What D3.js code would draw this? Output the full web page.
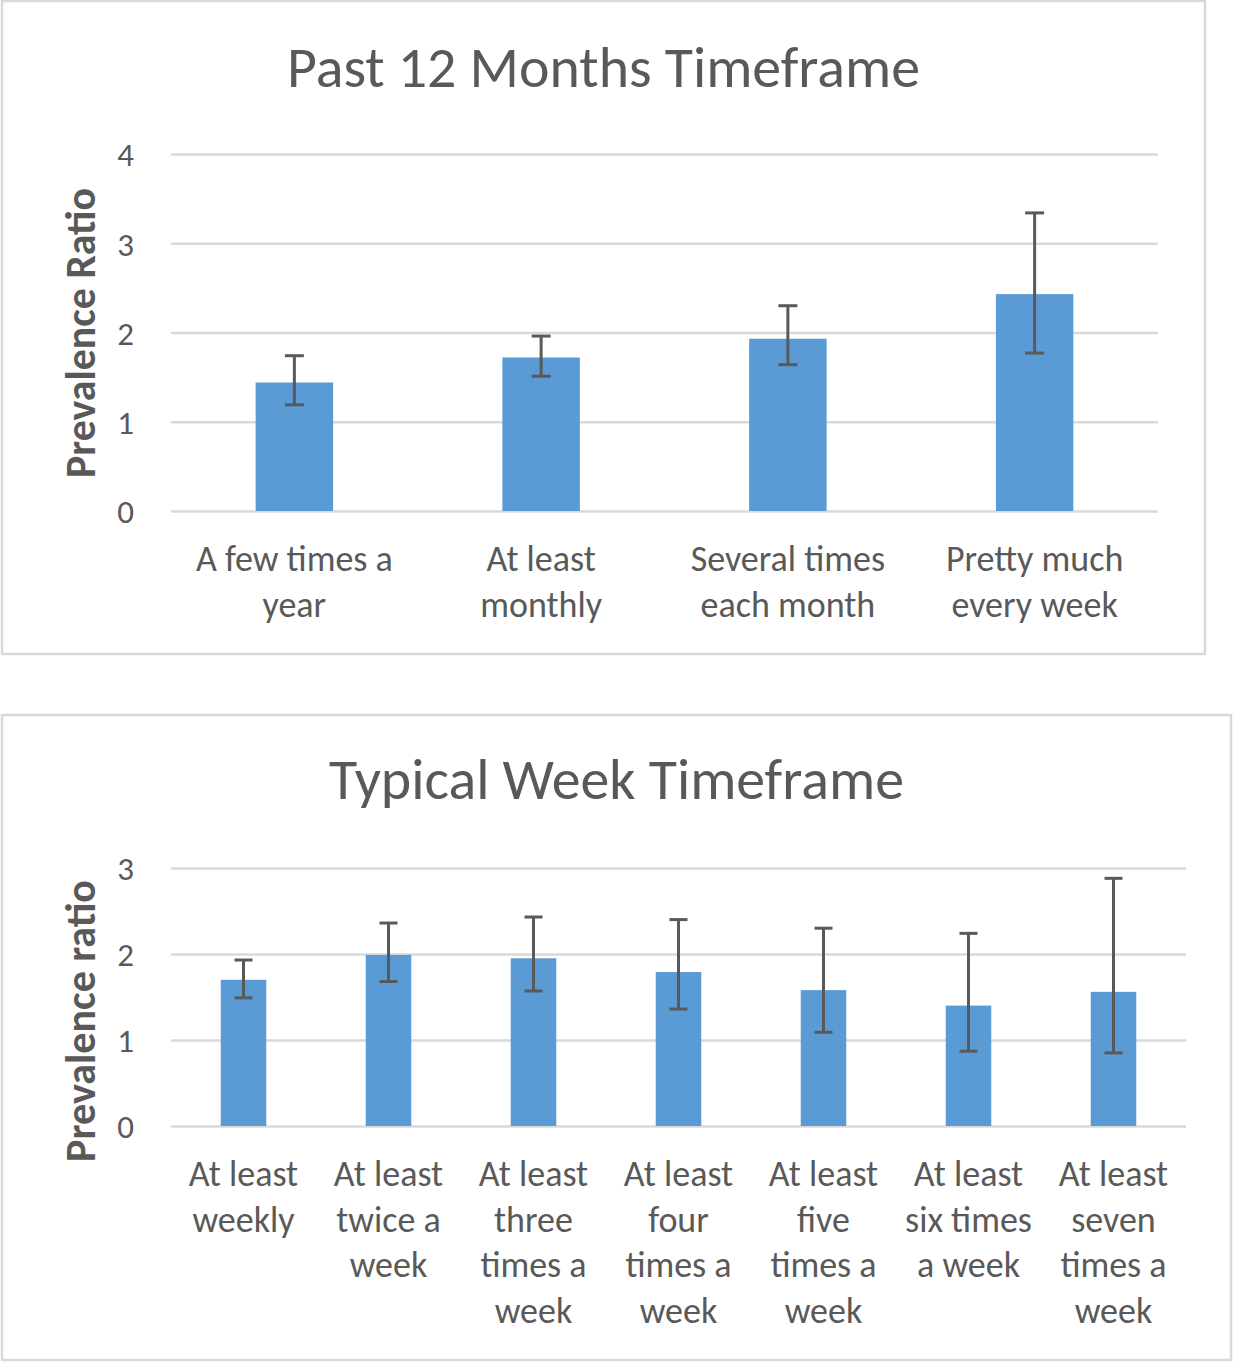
<!DOCTYPE html>
<html>
<head>
<meta charset="utf-8">
<script src="https://cdn.jsdelivr.net/npm/d3@7"></script>
<style>
  html, body { margin: 0; padding: 0; background: #ffffff; }
  svg { display: block; }
  text { font-family: Carlito, Lato, "Open Sans", sans-serif; fill: #595959; }
</style>
</head>
<body>
<svg id="chart" width="1233" height="1362"></svg>
<script>
// ---------- Data ----------
const monthsTitle = "Past 12 Months Timeframe";
const monthsYLabel = "Prevalence Ratio";
const monthsCategories = ["A few times a\nyear", "At least\nmonthly", "Several times\neach month", "Pretty much\nevery week"];
const monthsValues = [1.44, 1.72, 1.93, 2.43];
const monthsLower  = [1.19, 1.51, 1.64, 1.77];
const monthsUpper  = [1.74, 1.96, 2.30, 3.34];
const monthsTicks  = [0, 1, 2, 3, 4];

const weekTitle = "Typical Week Timeframe";
const weekYLabel = "Prevalence ratio";
const weekCategories = [
  "At least\nweekly",
  "At least\ntwice a\nweek",
  "At least\nthree\ntimes a\nweek",
  "At least\nfour\ntimes a\nweek",
  "At least\nfive\ntimes a\nweek",
  "At least\nsix times\na week",
  "At least\nseven\ntimes a\nweek"
];
const weekValues = [1.70, 1.99, 1.95, 1.79, 1.58, 1.40, 1.56];
const weekLower  = [1.49, 1.68, 1.57, 1.36, 1.09, 0.87, 0.85];
const weekUpper  = [1.93, 2.36, 2.43, 2.40, 2.30, 2.24, 2.88];
const weekTicks  = [0, 1, 2, 3];

// ---------- Drawing ----------
const svg = d3.select("#chart");
const BAR = "#5b9bd5", ERR = "#595959", GRID = "#d9d9d9", BORDER = "#d9d9d9";

function fitWidth(sel, target) {
  const node = sel.node();
  const fs = parseFloat(sel.attr("font-size"));
  const w = node.getComputedTextLength();
  if (w > 0) sel.attr("font-size", fs * target / w);
}

function drawPanel(cfg) {
  const g = svg.append("g");
  // panel border
  g.append("rect")
    .attr("x", cfg.box[0]).attr("y", cfg.box[1])
    .attr("width", cfg.box[2] - cfg.box[0]).attr("height", cfg.box[3] - cfg.box[1])
    .attr("fill", "#fff").attr("stroke", BORDER).attr("stroke-width", 2.5);

  const x = d3.scaleBand().domain(cfg.categories)
    .range([cfg.plot.left, cfg.plot.right])
    .paddingInner(0.686).paddingOuter(0.343);
  const y = d3.scaleLinear().domain([0, d3.max(cfg.ticks)])
    .range([cfg.plot.bottom, cfg.plot.top]);

  // title
  const t = g.append("text")
    .attr("x", (cfg.box[0] + cfg.box[2]) / 2).attr("y", cfg.titleY)
    .attr("text-anchor", "middle").attr("font-size", 54)
    .text(cfg.title);
  fitWidth(t, cfg.titleWidth);

  // gridlines + y axis via d3.axisLeft
  const yAxis = d3.axisLeft(y).tickValues(cfg.ticks).tickFormat(d3.format("d"))
    .tickSize(-(cfg.plot.right - cfg.plot.left)).tickPadding(37);
  const ya = g.append("g").attr("transform", `translate(${cfg.plot.left},0)`).call(yAxis);
  ya.select(".domain").remove();
  ya.selectAll(".tick line").attr("stroke", GRID).attr("stroke-width", 2.5);
  ya.selectAll(".tick text").attr("font-size", 33).attr("fill", "#595959")
    .attr("font-family", null).attr("dy", "0.36em");

  // y label
  const yl = g.append("text")
    .attr("transform", `translate(${cfg.yLabelX},${cfg.yLabelCY}) rotate(-90)`)
    .attr("text-anchor", "middle").attr("font-size", 38).attr("font-weight", "bold")
    .text(cfg.yLabel);
  fitWidth(yl, cfg.yLabelWidth);

  const data = cfg.categories.map((c, i) => ({ c, v: cfg.values[i], lo: cfg.lower[i], hi: cfg.upper[i] }));

  // bars
  g.append("g").selectAll("rect").data(data).join("rect")
    .attr("x", d => x(d.c)).attr("width", x.bandwidth())
    .attr("y", d => y(d.v)).attr("height", d => y(0) - y(d.v))
    .attr("fill", BAR);

  // error bars
  const eb = g.append("g").attr("stroke", ERR).attr("stroke-width", 3);
  const cx = d => x(d.c) + x.bandwidth() / 2;
  eb.selectAll("line.v").data(data).join("line").attr("class", "v")
    .attr("x1", cx).attr("x2", cx).attr("y1", d => y(d.lo)).attr("y2", d => y(d.hi));
  eb.selectAll("line.hi").data(data).join("line").attr("class", "hi")
    .attr("x1", d => cx(d) - cfg.cap).attr("x2", d => cx(d) + cfg.cap)
    .attr("y1", d => y(d.hi)).attr("y2", d => y(d.hi));
  eb.selectAll("line.lo").data(data).join("line").attr("class", "lo")
    .attr("x1", d => cx(d) - cfg.cap).attr("x2", d => cx(d) + cfg.cap)
    .attr("y1", d => y(d.lo)).attr("y2", d => y(d.lo));

  // x labels
  const xl = g.append("g").selectAll("text").data(data).join("text")
    .attr("text-anchor", "middle").attr("font-size", cfg.xFont)
    .attr("x", cx).attr("y", cfg.xLabelY);
  xl.selectAll("tspan").data(d => d.c.split("\n")).join("tspan")
    .attr("x", function() { return d3.select(this.parentNode).attr("x"); })
    .attr("dy", (d, i) => i === 0 ? 0 : cfg.xLineStep)
    .text(d => d);
}

drawPanel({
  box: [2, 1, 1205, 654],
  plot: { left: 171, right: 1158, top: 154, bottom: 511 },
  categories: monthsCategories, values: monthsValues, lower: monthsLower, upper: monthsUpper,
  ticks: monthsTicks, title: monthsTitle, titleY: 87, titleWidth: 633,
  yLabel: monthsYLabel, yLabelX: 95, yLabelCY: 333, yLabelWidth: 290,
  cap: 9.5, xFont: 36, xLabelY: 571, xLineStep: 46
});

drawPanel({
  box: [2, 715, 1231, 1360],
  plot: { left: 171, right: 1186, top: 868, bottom: 1126 },
  categories: weekCategories, values: weekValues, lower: weekLower, upper: weekUpper,
  ticks: weekTicks, title: weekTitle, titleY: 799, titleWidth: 575,
  yLabel: weekYLabel, yLabelX: 95, yLabelCY: 1021, yLabelWidth: 282,
  cap: 9, xFont: 36, xLabelY: 1186, xLineStep: 45.7
});
</script>
</body>
</html>
